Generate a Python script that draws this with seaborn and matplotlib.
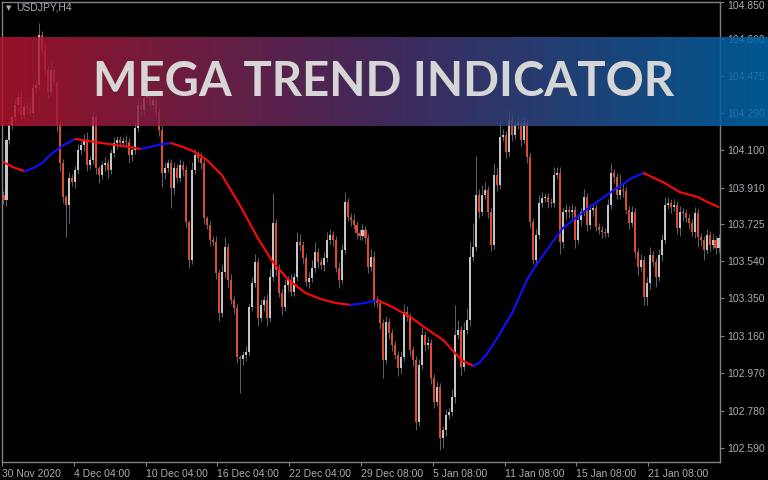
import numpy as np
import pandas as pd
import matplotlib
matplotlib.use("Agg")
import matplotlib.pyplot as plt
import matplotlib.transforms as mtrans
import seaborn as sns
from matplotlib.colors import LinearSegmentedColormap

# ---------------- data (USDJPY H4) ----------------
first_open = 103.872
closes = [
103.847,104.151,104.227,104.267,104.328,104.369,104.277,104.318,104.313,104.287,
104.414,104.429,104.683,104.607,104.505,104.394,104.505,104.445,104.227,104.034,
103.862,103.821,103.958,103.938,103.999,104.100,104.125,104.151,104.024,104.049,
104.267,104.009,103.973,104.024,104.034,103.999,104.085,104.135,104.151,104.135,
104.146,104.141,104.075,104.100,104.211,104.328,104.303,104.363,104.379,104.328,
104.353,104.293,104.201,103.983,104.009,104.034,103.907,104.009,103.958,104.024,
103.999,103.735,103.543,103.999,104.075,104.059,104.034,103.755,103.720,103.644,
103.634,103.477,103.274,103.482,103.609,103.441,103.340,103.299,103.051,103.041,
103.061,103.076,103.304,103.426,103.532,103.249,103.315,103.340,103.249,103.456,
103.730,103.492,103.375,103.304,103.416,103.441,103.380,103.456,103.634,103.619,
103.553,103.431,103.451,103.502,103.583,103.532,103.517,103.553,103.644,103.669,
103.644,103.502,103.441,103.593,103.837,103.761,103.745,103.720,103.679,103.664,
103.695,103.654,103.507,103.558,103.340,103.325,103.223,103.036,103.228,103.173,
103.112,103.061,102.995,103.051,103.279,103.254,103.087,103.036,102.722,103.011,
103.163,103.112,103.122,102.945,102.823,102.899,102.641,102.681,102.757,102.772,
102.848,103.163,103.188,103.000,103.188,103.239,103.558,103.609,103.872,103.786,
103.872,103.897,103.786,103.619,103.973,103.923,104.166,104.176,104.090,104.252,
104.176,104.227,104.237,104.151,104.237,104.065,103.735,103.543,103.669,103.831,
103.857,103.862,103.837,103.831,103.973,103.983,103.634,103.786,103.796,103.786,
103.796,103.644,103.745,103.786,103.862,103.720,103.796,103.806,103.710,103.695,
103.685,103.679,103.821,103.983,103.963,103.872,103.897,103.892,103.796,103.730,
103.786,103.583,103.507,103.543,103.355,103.426,103.568,103.532,103.456,103.568,
103.644,103.821,103.831,103.811,103.821,103.705,103.786,103.781,103.755,103.730,
103.685,103.781,103.659,103.644,103.593,103.669,103.619,103.644,103.603,103.654,
]
upper_wick = [
0.02,0.01,0.02,0.01,0.03,0.02,0.03,0.02,0.02,0.03,
0.02,0.03,0.06,0.02,0.03,0.02,0.04,0.02,0.01,0.02,
0.02,0.01,0.03,0.02,0.02,0.03,0.02,0.03,0.04,0.02,
0.03,0.02,0.01,0.02,0.03,0.02,0.02,0.03,0.02,0.02,
0.02,0.03,0.02,0.02,0.03,0.04,0.02,0.03,0.04,0.02,
0.03,0.02,0.02,0.02,0.03,0.02,0.02,0.03,0.02,0.03,
0.02,0.02,0.01,0.04,0.03,0.02,0.03,0.02,0.01,0.02,
0.02,0.03,0.02,0.04,0.05,0.02,0.03,0.02,0.02,0.01,
0.02,0.03,0.02,0.03,0.04,0.02,0.03,0.02,0.03,0.04,
0.15,0.02,0.03,0.02,0.03,0.02,0.03,0.02,0.05,0.04,
0.02,0.02,0.03,0.04,0.05,0.02,0.02,0.03,0.04,0.03,
0.02,0.02,0.03,0.03,0.05,0.02,0.02,0.03,0.02,0.02,
0.03,0.02,0.02,0.04,0.03,0.02,0.02,0.02,0.03,0.02,
0.02,0.02,0.02,0.03,0.04,0.03,0.02,0.02,0.02,0.03,
0.04,0.02,0.03,0.02,0.02,0.03,0.02,0.02,0.03,0.02,
0.04,0.15,0.05,0.02,0.04,0.06,0.08,0.12,0.20,0.03,
0.05,0.04,0.02,0.02,0.06,0.04,0.08,0.03,0.02,0.05,
0.03,0.02,0.03,0.02,0.03,0.02,0.02,0.02,0.03,0.04,
0.03,0.02,0.02,0.02,0.04,0.03,0.03,0.02,0.03,0.02,
0.03,0.02,0.03,0.02,0.04,0.02,0.03,0.02,0.02,0.02,
0.02,0.02,0.03,0.05,0.02,0.02,0.08,0.03,0.02,0.02,
0.03,0.02,0.02,0.03,0.02,0.03,0.04,0.02,0.02,0.03,
0.03,0.04,0.03,0.02,0.03,0.02,0.03,0.02,0.02,0.02,
0.02,0.03,0.02,0.02,0.02,0.03,0.02,0.03,0.02,0.02,
]
lower_wick = [
0.02,0.03,0.02,0.02,0.02,0.03,0.02,0.02,0.03,0.02,
0.02,0.02,0.02,0.03,0.02,0.03,0.02,0.02,0.03,0.04,
0.03,0.16,0.09,0.02,0.03,0.02,0.02,0.03,0.03,0.02,
0.02,0.03,0.04,0.02,0.03,0.04,0.02,0.02,0.03,0.02,
0.02,0.02,0.04,0.03,0.02,0.02,0.03,0.02,0.02,0.03,
0.02,0.02,0.03,0.07,0.03,0.02,0.10,0.03,0.02,0.02,
0.03,0.03,0.04,0.02,0.02,0.02,0.03,0.03,0.02,0.03,
0.02,0.03,0.04,0.02,0.03,0.04,0.02,0.03,0.03,0.17,
0.03,0.03,0.02,0.02,0.02,0.04,0.02,0.03,0.04,0.02,
0.02,0.03,0.02,0.04,0.02,0.03,0.02,0.02,0.02,0.03,
0.03,0.02,0.03,0.02,0.02,0.03,0.02,0.03,0.02,0.02,
0.03,0.02,0.04,0.02,0.02,0.02,0.03,0.02,0.03,0.02,
0.02,0.03,0.03,0.02,0.03,0.02,0.03,0.09,0.02,0.03,
0.03,0.02,0.04,0.03,0.02,0.02,0.03,0.03,0.04,0.02,
0.02,0.03,0.02,0.03,0.03,0.02,0.06,0.05,0.03,0.02,
0.02,0.03,0.02,0.04,0.02,0.02,0.03,0.02,0.02,0.03,
0.02,0.02,0.03,0.03,0.02,0.03,0.02,0.02,0.03,0.02,
0.03,0.02,0.02,0.03,0.02,0.03,0.03,0.02,0.03,0.02,
0.02,0.02,0.03,0.02,0.02,0.02,0.06,0.03,0.04,0.03,
0.03,0.04,0.02,0.03,0.02,0.03,0.02,0.03,0.02,0.02,
0.03,0.02,0.02,0.02,0.03,0.02,0.02,0.03,0.02,0.03,
0.02,0.03,0.04,0.02,0.04,0.04,0.03,0.02,0.05,0.02,
0.03,0.02,0.02,0.03,0.02,0.03,0.04,0.04,0.02,0.03,
0.02,0.03,0.05,0.03,0.05,0.02,0.03,0.02,0.03,0.02,
]
# Mega trend line (bar index, price)
trend_bar = [0, 3, 7, 10, 13, 16, 20, 24, 33, 40, 46, 53, 56, 60, 64, 68, 73, 79,
             85, 90, 95, 101, 106, 111, 116, 121, 125, 130, 136, 142, 147, 153, 157,
             159, 162, 164, 167, 170, 173, 175, 178, 180, 184, 187, 196, 204, 210,
             214, 221, 226, 232, 236, 239]
trend_val = [104.039, 104.014, 103.993, 104.009, 104.034, 104.080, 104.125, 104.156,
             104.135, 104.120, 104.105, 104.130, 104.135, 104.115, 104.090, 104.049,
             103.973, 103.821, 103.654, 103.533, 103.446, 103.375, 103.345, 103.325,
             103.315, 103.325, 103.340, 103.304, 103.254, 103.188, 103.137, 103.036,
             103.006, 103.021, 103.076, 103.122, 103.198, 103.274, 103.375, 103.441,
             103.517, 103.558, 103.644, 103.705, 103.811, 103.897, 103.958, 103.983,
             103.933, 103.887, 103.862, 103.831, 103.811]
price_ticks = [104.850, 104.660, 104.475, 104.290, 104.100, 103.910, 103.725,
               103.540, 103.350, 103.160, 102.970, 102.780, 102.590]
date_labels = ["30 Nov 2020", "4 Dec 04:00", "10 Dec 04:00", "16 Dec 04:00",
               "22 Dec 04:00", "29 Dec 08:00", "5 Jan 08:00", "11 Jan 08:00",
               "15 Jan 08:00", "21 Jan 08:00"]
date_bars = [0, 24, 48, 72, 96, 120, 144, 168, 192, 216]
symbol_label = "USDJPY,H4"
banner_title = "MEGA TREND INDICATOR"

# ---------------- styling ----------------
sns.set_theme(style="dark")
plt.rcParams['font.family'] = ['Liberation Sans', 'DejaVu Sans']

BG = "#000000"
BULL = "#c4c4c4"
BEAR = "#dc4b30"
WICK = "#5a5f6a"
AXC = "#7c8088"
TXT = "#a9adb6"

W, H = 768, 480
fig = plt.figure(figsize=(W / 100, H / 100), dpi=100, facecolor=BG)
L, R, T, B = 2, 720, 2, 462
ax = fig.add_axes([L / W, (H - B) / H, (R - L) / W, (B - T) / H])
ax.set_facecolor(BG)

n = len(closes)
idx = np.arange(n)
opens = np.array([first_open] + closes[:-1])
cl = np.array(closes)
hi = np.maximum(opens, cl) + np.array(upper_wick)
lo = np.minimum(opens, cl) - np.array(lower_wick)
up = cl >= opens

ax.vlines(idx, lo, hi, color=WICK, linewidth=0.75, zorder=2)
body_h = np.maximum(np.abs(cl - opens), 0.004)
ax.bar(idx, body_h, bottom=np.minimum(opens, cl), width=0.68,
       color=np.where(up, BULL, BEAR), edgecolor="none", linewidth=0, zorder=3)

# trend line coloured by direction
tb = np.array(trend_bar)
tv = np.array(trend_val)
rising = np.diff(tv) > 0
start = 0
for k in range(1, len(rising) + 1):
    if k == len(rising) or rising[k] != rising[start]:
        seg = pd.DataFrame({"bar": tb[start:k + 1], "price": tv[start:k + 1]})
        sns.lineplot(data=seg, x="bar", y="price", ax=ax, sort=False,
                     color="#1010ff" if rising[start] else "#ff0808",
                     linewidth=1.5, zorder=4)
        start = k

ax.set_xlim(-0.5, n - 0.5)
ymax = 104.850
ymin = 104.850 - (B - T) * (104.850 - 102.590) / 446.0
ax.set_ylim(ymin, ymax)
ax.set_xlabel("")
ax.set_ylabel("")
ax.grid(False)

ax.yaxis.tick_right()
ax.set_yticks(price_ticks)
ax.set_yticklabels([f"{v:.3f}" for v in price_ticks])
ax.set_xticks([b - 0.5 for b in date_bars])
ax.set_xticklabels(date_labels)
for lab in ax.get_xticklabels():
    lab.set_horizontalalignment("left")
ax.tick_params(axis="y", right=True, left=False, length=3, width=0.8, color=AXC,
               labelcolor=TXT, labelsize=7.5, pad=2)
ax.tick_params(axis="x", bottom=True, length=3, width=0.8, color=AXC,
               labelcolor=TXT, labelsize=7.5, pad=2)
for s in ax.spines.values():
    s.set_color(AXC)
    s.set_linewidth(1.0)
# keep the top price label inside the picture
top_lab = ax.get_yticklabels()[0]
top_lab.set_transform(top_lab.get_transform() +
                      mtrans.ScaledTranslation(0, -2.5 / 72, fig.dpi_scale_trans))

# symbol label
fig.text(6 / W, 1 - 8 / H, "\u25BC", color=TXT, fontsize=5, va="center", ha="left",
         family=['DejaVu Sans'])
fig.text(16 / W, 1 - 8 / H, symbol_label, color=TXT, fontsize=7.5, va="center", ha="left")

# ---------------- banner ----------------
by0, by1 = 37, 126
bax = fig.add_axes([0, (H - by1) / H, 1, (by1 - by0) / H], zorder=5)
bax.set_axis_off()
bax.patch.set_alpha(0)
cmap = LinearSegmentedColormap.from_list(
    "mega", [(0.0, (0.70, 0.08, 0.18)), (0.5, (0.30, 0.19, 0.42)), (1.0, (0.0, 0.41, 0.67))])
grad = np.linspace(0, 1, 512).reshape(1, -1)
bax.imshow(grad, aspect="auto", cmap=cmap, alpha=0.85, extent=[0, 1, 0, 1])
bax.set_xlim(0, 1)
bax.set_ylim(0, 1)
bax.text(0.5, 0.5, banner_title, color="#d6d6d6", fontsize=34, fontweight="bold",
         family=["Lato", "DejaVu Sans"], ha="center", va="center")

fig.savefig("out.png", dpi=100, facecolor=BG)
